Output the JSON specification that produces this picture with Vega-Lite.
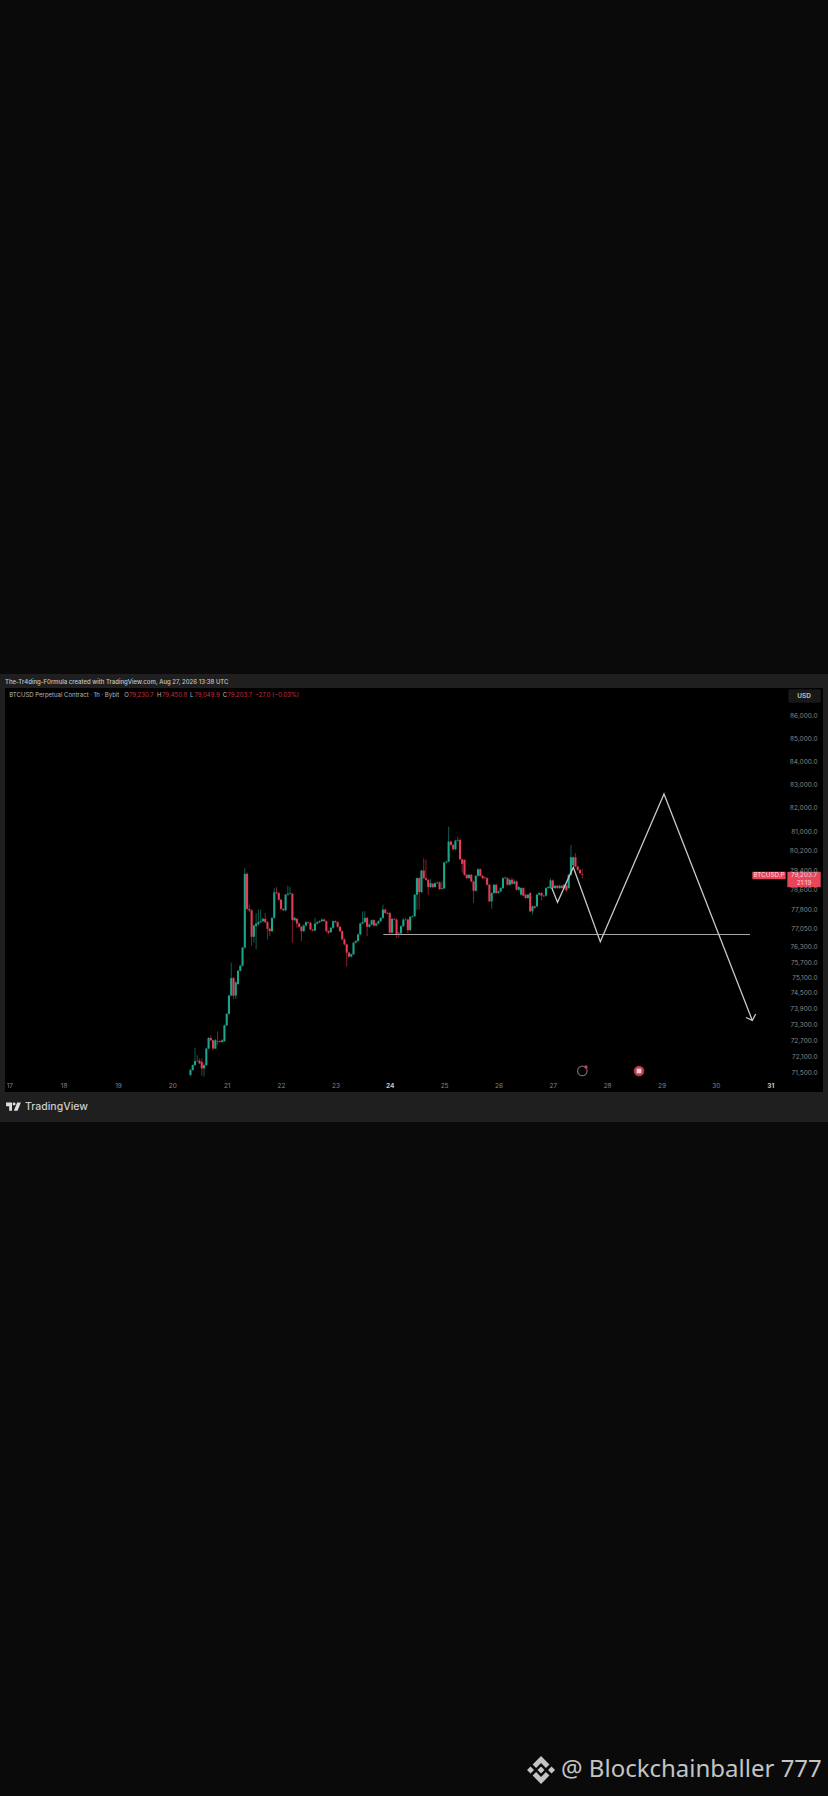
{"$schema":"https://vega.github.io/schema/vega-lite/v6.json","width":828,"height":1796,"padding":0,"autosize":{"type":"none"},"background":"#0a0a0a","config":{"view":{"stroke":null},"text":{"font":"Inter"}},
"encoding":{"x":{"field":"t","type":"temporal","title":null,"scale":{"type":"utc","padding":0,"domain":["2026-08-16T19:54Z","2026-09-01T01:31Z"]},"axis":{"orient":"bottom","offset":-716,"zindex":1,"domain":false,"ticks":false,"grid":false,"title":null,"format":"%-d","labelFont":"Inter","labelFontSize":6.5,"labelPadding":2,"labelBound":false,"labelFlush":false,"labelOverlap":false,"labelColor":{"condition":{"test":"utcdate(datum.value)==24||utcdate(datum.value)==31","value":"#c4c4c4"},"value":"#868686"},"labelFontWeight":{"condition":{"test":"utcdate(datum.value)==24||utcdate(datum.value)==31","value":"bold"},"value":"normal"},"values":["2026-08-17T00:00Z","2026-08-18T00:00Z","2026-08-19T00:00Z","2026-08-20T00:00Z","2026-08-21T00:00Z","2026-08-22T00:00Z","2026-08-23T00:00Z","2026-08-24T00:00Z","2026-08-25T00:00Z","2026-08-26T00:00Z","2026-08-27T00:00Z","2026-08-28T00:00Z","2026-08-29T00:00Z","2026-08-30T00:00Z","2026-08-31T00:00Z"]}},
"y":{"field":"p","type":"quantitative","title":null,"scale":{"type":"log","domain":[49142,124626]},"axis":{"orient":"right","offset":-11,"zindex":1,"domain":false,"ticks":false,"grid":false,"title":null,"format":",.1f","labelFont":"Inter","labelFontSize":6.5,"labelColor":"#868686","labelAlign":"right","labelPadding":0,"labelBound":false,"labelFlush":false,"labelOverlap":false,"values":[86000,85000,84000,83000,82000,81000,80200,79400,78600,77800,77050,76300,75700,75100,74500,73900,73300,72700,72100,71500]}}},
"layer":[
{"data":{"values":[{"t":"2026-08-16T19:54Z","t2":"2026-09-01T01:31Z","p":87892,"p2":69684}]},"mark":{"type":"rect","color":"#1f1f1f"},"encoding":{"x2":{"field":"t2"},"y2":{"field":"p2"}}},
{"data":{"values":[{"t":"2026-08-16T22:06Z","t2":"2026-08-31T23:18Z","p":87257,"p2":70776}]},"mark":{"type":"rect","color":"#000000"},"encoding":{"x2":{"field":"t2"},"y2":{"field":"p2"}}},
{"data":{"values":[{"t":"2026-08-31T08:00Z","t2":"2026-08-31T22:18Z","p":87198,"p2":86594}]},"mark":{"type":"rect","color":"#181818","cornerRadius":1.5},"encoding":{"x2":{"field":"t2"},"y2":{"field":"p2"}}},
{"data":{"name":"candles","values":[
{"t":"2026-08-20T08:00Z","o":71400,"h":71640,"l":71360,"c":71584},{"t":"2026-08-20T09:00Z","o":71584,"h":71800,"l":71560,"c":71768},{"t":"2026-08-20T10:00Z","o":71768,"h":72410,"l":71740,"c":71916},{"t":"2026-08-20T11:00Z","o":71916,"h":72139,"l":71880,"c":71929},{"t":"2026-08-20T12:00Z","o":71929,"h":72015,"l":71800,"c":71830},{"t":"2026-08-20T13:00Z","o":71880,"h":72015,"l":71376,"c":71645},{"t":"2026-08-20T14:00Z","o":71645,"h":71830,"l":71339,"c":71768},{"t":"2026-08-20T15:00Z","o":71768,"h":72420,"l":71730,"c":72386},{"t":"2026-08-20T16:00Z","o":72386,"h":72820,"l":72360,"c":72784},{"t":"2026-08-20T17:00Z","o":72784,"h":72884,"l":72660,"c":72697},{"t":"2026-08-20T18:00Z","o":72697,"h":72720,"l":72324,"c":72386},{"t":"2026-08-20T19:00Z","o":72386,"h":72740,"l":72360,"c":72697},{"t":"2026-08-20T20:00Z","o":72660,"h":73034,"l":72510,"c":72635},{"t":"2026-08-20T21:00Z","o":72660,"h":72700,"l":72600,"c":72635},{"t":"2026-08-20T22:00Z","o":72635,"h":72740,"l":72600,"c":72697},{"t":"2026-08-20T23:00Z","o":72660,"h":73290,"l":72640,"c":73260},
{"t":"2026-08-21T00:00Z","o":73260,"h":73730,"l":73230,"c":73700},{"t":"2026-08-21T01:00Z","o":73700,"h":74430,"l":73670,"c":74400},{"t":"2026-08-21T02:00Z","o":74400,"h":75684,"l":74370,"c":75077},{"t":"2026-08-21T03:00Z","o":75077,"h":75120,"l":74270,"c":74398},{"t":"2026-08-21T04:00Z","o":74398,"h":74950,"l":74270,"c":74910},{"t":"2026-08-21T05:00Z","o":74845,"h":75400,"l":74820,"c":75360},{"t":"2026-08-21T06:00Z","o":75360,"h":75600,"l":75340,"c":75555},{"t":"2026-08-21T07:00Z","o":75555,"h":76300,"l":75530,"c":76270},{"t":"2026-08-21T08:00Z","o":76270,"h":79476,"l":76240,"c":79244},{"t":"2026-08-21T09:00Z","o":79244,"h":79300,"l":77780,"c":77816},{"t":"2026-08-21T10:00Z","o":77816,"h":78000,"l":77700,"c":77762},{"t":"2026-08-21T11:00Z","o":77762,"h":77800,"l":76336,"c":76703},{"t":"2026-08-21T12:00Z","o":76703,"h":77190,"l":76467,"c":77152},{"t":"2026-08-21T13:00Z","o":77125,"h":77650,"l":76205,"c":77231},{"t":"2026-08-21T14:00Z","o":77205,"h":77789,"l":77150,"c":77284},{"t":"2026-08-21T15:00Z","o":77284,"h":77789,"l":77250,"c":77324},{"t":"2026-08-21T16:00Z","o":77324,"h":77460,"l":77280,"c":77417},{"t":"2026-08-21T17:00Z","o":77417,"h":77656,"l":77240,"c":77284},{"t":"2026-08-21T18:00Z","o":77284,"h":77330,"l":76598,"c":77020},{"t":"2026-08-21T19:00Z","o":77020,"h":77060,"l":76730,"c":76927},{"t":"2026-08-21T20:00Z","o":76927,"h":77490,"l":76880,"c":77457},{"t":"2026-08-21T21:00Z","o":77457,"h":78662,"l":77420,"c":78486},{"t":"2026-08-21T22:00Z","o":78486,"h":78702,"l":78400,"c":78459},{"t":"2026-08-21T23:00Z","o":78459,"h":78500,"l":78150,"c":78190},
{"t":"2026-08-22T00:00Z","o":78190,"h":78230,"l":77780,"c":77816},{"t":"2026-08-22T01:00Z","o":77816,"h":77850,"l":77720,"c":77762},{"t":"2026-08-22T02:00Z","o":77762,"h":78430,"l":77720,"c":78392},{"t":"2026-08-22T03:00Z","o":78392,"h":78756,"l":78350,"c":78432},{"t":"2026-08-22T04:00Z","o":78432,"h":78702,"l":78400,"c":78459},{"t":"2026-08-22T05:00Z","o":78432,"h":78480,"l":76467,"c":77364},{"t":"2026-08-22T06:00Z","o":77364,"h":77500,"l":77320,"c":77457},{"t":"2026-08-22T07:00Z","o":77417,"h":77460,"l":77059,"c":77231},{"t":"2026-08-22T08:00Z","o":77231,"h":77270,"l":77060,"c":77099},{"t":"2026-08-22T09:00Z","o":77099,"h":77140,"l":76532,"c":76927},{"t":"2026-08-22T10:00Z","o":76927,"h":77190,"l":76880,"c":77152},{"t":"2026-08-22T11:00Z","o":77152,"h":77320,"l":77110,"c":77284},{"t":"2026-08-22T12:00Z","o":77284,"h":77320,"l":77220,"c":77258},{"t":"2026-08-22T13:00Z","o":77258,"h":77300,"l":76950,"c":76993},{"t":"2026-08-22T14:00Z","o":76993,"h":77020,"l":76900,"c":76954},{"t":"2026-08-22T15:00Z","o":76954,"h":77457,"l":76920,"c":77231},{"t":"2026-08-22T16:00Z","o":77231,"h":77330,"l":77190,"c":77284},{"t":"2026-08-22T17:00Z","o":77284,"h":77360,"l":77240,"c":77324},{"t":"2026-08-22T18:00Z","o":77324,"h":77430,"l":77290,"c":77390},{"t":"2026-08-22T19:00Z","o":77390,"h":77430,"l":77290,"c":77324},{"t":"2026-08-22T20:00Z","o":77324,"h":77360,"l":76861,"c":76927},{"t":"2026-08-22T21:00Z","o":76927,"h":76960,"l":76800,"c":76861},{"t":"2026-08-22T22:00Z","o":76888,"h":77090,"l":76850,"c":77059},{"t":"2026-08-22T23:00Z","o":77059,"h":77360,"l":77020,"c":77324},
{"t":"2026-08-23T00:00Z","o":77324,"h":77360,"l":77240,"c":77284},{"t":"2026-08-23T01:00Z","o":77284,"h":77320,"l":77060,"c":77099},{"t":"2026-08-23T02:00Z","o":77099,"h":77140,"l":76880,"c":76927},{"t":"2026-08-23T03:00Z","o":76927,"h":76960,"l":76560,"c":76598},{"t":"2026-08-23T04:00Z","o":76598,"h":76640,"l":76360,"c":76400},{"t":"2026-08-23T05:00Z","o":76400,"h":76430,"l":75529,"c":76075},{"t":"2026-08-23T06:00Z","o":76075,"h":76110,"l":75880,"c":75918},{"t":"2026-08-23T07:00Z","o":75918,"h":76040,"l":75880,"c":76010},{"t":"2026-08-23T08:00Z","o":76010,"h":76500,"l":75980,"c":76467},{"t":"2026-08-23T09:00Z","o":76467,"h":76570,"l":76430,"c":76532},{"t":"2026-08-23T10:00Z","o":76532,"h":76830,"l":76500,"c":76796},{"t":"2026-08-23T11:00Z","o":76796,"h":77270,"l":76760,"c":77231},{"t":"2026-08-23T12:00Z","o":77231,"h":77720,"l":77200,"c":77284},{"t":"2026-08-23T13:00Z","o":77284,"h":77722,"l":77250,"c":77457},{"t":"2026-08-23T14:00Z","o":77457,"h":77490,"l":76730,"c":77099},{"t":"2026-08-23T15:00Z","o":77099,"h":77230,"l":77060,"c":77190},{"t":"2026-08-23T16:00Z","o":77190,"h":77400,"l":77150,"c":77364},{"t":"2026-08-23T17:00Z","o":77364,"h":77400,"l":77110,"c":77152},{"t":"2026-08-23T18:00Z","o":77152,"h":77270,"l":77110,"c":77231},{"t":"2026-08-23T19:00Z","o":77231,"h":77360,"l":77190,"c":77324},{"t":"2026-08-23T20:00Z","o":77324,"h":77490,"l":77290,"c":77457},{"t":"2026-08-23T21:00Z","o":77457,"h":77990,"l":77420,"c":77789},{"t":"2026-08-23T22:00Z","o":77789,"h":77830,"l":77620,"c":77656},{"t":"2026-08-23T23:00Z","o":77656,"h":77690,"l":77590,"c":77630},
{"t":"2026-08-24T00:00Z","o":77656,"h":77690,"l":76830,"c":76861},{"t":"2026-08-24T01:00Z","o":76861,"h":77450,"l":76830,"c":77417},{"t":"2026-08-24T02:00Z","o":77417,"h":77450,"l":77350,"c":77390},{"t":"2026-08-24T03:00Z","o":77390,"h":77430,"l":76664,"c":76796},{"t":"2026-08-24T04:00Z","o":76862,"h":76900,"l":76664,"c":76835},{"t":"2026-08-24T05:00Z","o":76835,"h":77160,"l":76800,"c":77125},{"t":"2026-08-24T06:00Z","o":77125,"h":77457,"l":77090,"c":77390},{"t":"2026-08-24T07:00Z","o":77390,"h":77457,"l":77340,"c":77380},{"t":"2026-08-24T08:00Z","o":77390,"h":77420,"l":76835,"c":76967},{"t":"2026-08-24T09:00Z","o":76967,"h":77530,"l":76930,"c":77497},{"t":"2026-08-24T10:00Z","o":77497,"h":77550,"l":77460,"c":77523},{"t":"2026-08-24T11:00Z","o":77523,"h":78420,"l":77490,"c":78392},{"t":"2026-08-24T12:00Z","o":78392,"h":79100,"l":77789,"c":79068},{"t":"2026-08-24T13:00Z","o":79068,"h":79100,"l":77789,"c":78500},{"t":"2026-08-24T14:00Z","o":78500,"h":79410,"l":78460,"c":79380},{"t":"2026-08-24T15:00Z","o":79380,"h":79886,"l":79030,"c":79068},{"t":"2026-08-24T16:00Z","o":79068,"h":79818,"l":78960,"c":79000},{"t":"2026-08-24T17:00Z","o":79000,"h":79040,"l":78392,"c":78702},{"t":"2026-08-24T18:00Z","o":78702,"h":79027,"l":78670,"c":78865},{"t":"2026-08-24T19:00Z","o":78838,"h":78870,"l":78660,"c":78702},{"t":"2026-08-24T20:00Z","o":78702,"h":78900,"l":78670,"c":78865},{"t":"2026-08-24T21:00Z","o":78865,"h":78930,"l":78830,"c":78892},{"t":"2026-08-24T22:00Z","o":78892,"h":78932,"l":78590,"c":78621},{"t":"2026-08-24T23:00Z","o":78621,"h":78932,"l":78590,"c":78648},
{"t":"2026-08-25T00:00Z","o":78648,"h":79740,"l":78620,"c":79708},{"t":"2026-08-25T01:00Z","o":79708,"h":79790,"l":79670,"c":79750},{"t":"2026-08-25T02:00Z","o":79750,"h":81207,"l":79720,"c":80579},{"t":"2026-08-25T03:00Z","o":80579,"h":80620,"l":80400,"c":80440},{"t":"2026-08-25T04:00Z","o":80440,"h":80480,"l":80220,"c":80260},{"t":"2026-08-25T05:00Z","o":80260,"h":80660,"l":80220,"c":80620},{"t":"2026-08-25T06:00Z","o":80620,"h":80787,"l":80590,"c":80648},{"t":"2026-08-25T07:00Z","o":80648,"h":80720,"l":79810,"c":79845},{"t":"2026-08-25T08:00Z","o":79845,"h":79880,"l":79300,"c":79654},{"t":"2026-08-25T09:00Z","o":79818,"h":79850,"l":79160,"c":79203},{"t":"2026-08-25T10:00Z","o":79203,"h":79240,"l":79030,"c":79068},{"t":"2026-08-25T11:00Z","o":79068,"h":79240,"l":79030,"c":79203},{"t":"2026-08-25T12:00Z","o":79203,"h":79240,"l":78890,"c":78932},{"t":"2026-08-25T13:00Z","o":78932,"h":78970,"l":78057,"c":78553},{"t":"2026-08-25T14:00Z","o":78553,"h":79200,"l":78520,"c":79163},{"t":"2026-08-25T15:00Z","o":79163,"h":79470,"l":79130,"c":79434},{"t":"2026-08-25T16:00Z","o":79434,"h":79470,"l":79130,"c":79163},{"t":"2026-08-25T17:00Z","o":79163,"h":79200,"l":79030,"c":79068},{"t":"2026-08-25T18:00Z","o":79095,"h":79130,"l":79030,"c":79068},{"t":"2026-08-25T19:00Z","o":79068,"h":79100,"l":78760,"c":78797},{"t":"2026-08-25T20:00Z","o":78797,"h":78830,"l":78090,"c":78124},{"t":"2026-08-25T21:00Z","o":78124,"h":78500,"l":77816,"c":78460},{"t":"2026-08-25T22:00Z","o":78460,"h":78830,"l":78430,"c":78797},{"t":"2026-08-25T23:00Z","o":78797,"h":78830,"l":78430,"c":78460},
{"t":"2026-08-26T00:00Z","o":78460,"h":78560,"l":78430,"c":78525},{"t":"2026-08-26T01:00Z","o":78525,"h":78700,"l":78490,"c":78661},{"t":"2026-08-26T02:00Z","o":78661,"h":79100,"l":78630,"c":79068},{"t":"2026-08-26T03:00Z","o":79068,"h":79130,"l":79030,"c":79095},{"t":"2026-08-26T04:00Z","o":79068,"h":79100,"l":78760,"c":78797},{"t":"2026-08-26T05:00Z","o":78797,"h":79040,"l":78760,"c":79000},{"t":"2026-08-26T06:00Z","o":79000,"h":79095,"l":78800,"c":78838},{"t":"2026-08-26T07:00Z","o":78838,"h":79027,"l":78800,"c":78932},{"t":"2026-08-26T08:00Z","o":78932,"h":78970,"l":78560,"c":78594},{"t":"2026-08-26T09:00Z","o":78594,"h":78740,"l":78560,"c":78702},{"t":"2026-08-26T10:00Z","o":78392,"h":78700,"l":78360,"c":78661},{"t":"2026-08-26T11:00Z","o":78661,"h":78700,"l":78320,"c":78352},{"t":"2026-08-26T12:00Z","o":78392,"h":78430,"l":78220,"c":78257},{"t":"2026-08-26T13:00Z","o":78257,"h":78430,"l":78220,"c":78392},{"t":"2026-08-26T14:00Z","o":78460,"h":78490,"l":77690,"c":77723},{"t":"2026-08-26T15:00Z","o":77723,"h":77960,"l":77590,"c":77922},{"t":"2026-08-26T16:00Z","o":77922,"h":77960,"l":77820,"c":77856},{"t":"2026-08-26T17:00Z","o":77922,"h":78430,"l":77890,"c":78392},{"t":"2026-08-26T18:00Z","o":78392,"h":78500,"l":78360,"c":78460},{"t":"2026-08-26T19:00Z","o":78460,"h":78500,"l":78163,"c":78352},{"t":"2026-08-26T20:00Z","o":78352,"h":78390,"l":78290,"c":78325},{"t":"2026-08-26T21:00Z","o":78352,"h":78700,"l":78320,"c":78661},{"t":"2026-08-26T22:00Z","o":78661,"h":78740,"l":78630,"c":78702},{"t":"2026-08-26T23:00Z","o":78661,"h":79068,"l":78630,"c":78973},
{"t":"2026-08-27T00:00Z","o":78973,"h":79010,"l":78630,"c":78661},{"t":"2026-08-27T01:00Z","o":78661,"h":78800,"l":78630,"c":78756},{"t":"2026-08-27T02:00Z","o":78756,"h":78800,"l":78630,"c":78661},{"t":"2026-08-27T03:00Z","o":78661,"h":78790,"l":78630,"c":78756},{"t":"2026-08-27T04:00Z","o":78756,"h":78790,"l":78630,"c":78661},{"t":"2026-08-27T05:00Z","o":78661,"h":78830,"l":78630,"c":78797},{"t":"2026-08-27T06:00Z","o":78756,"h":78790,"l":78530,"c":78567},{"t":"2026-08-27T07:00Z","o":78661,"h":79240,"l":78630,"c":79203},{"t":"2026-08-27T08:00Z","o":79203,"h":80440,"l":79170,"c":79927},{"t":"2026-08-27T09:00Z","o":79600,"h":79960,"l":79570,"c":79927},{"t":"2026-08-27T10:00Z","o":79927,"h":80095,"l":79510,"c":79544},{"t":"2026-08-27T11:00Z","o":79544,"h":79580,"l":79370,"c":79407},{"t":"2026-08-27T12:00Z","o":79407,"h":79450,"l":79240,"c":79271},{"t":"2026-08-27T13:00Z","o":79230.7,"h":79450.8,"l":79049.9,"c":79203.7}
]},"layer":[
{"mark":{"type":"rule","strokeWidth":0.8,"opacity":0.75},"encoding":{"y":{"field":"h","type":"quantitative","title":null,"scale":{"type":"log","domain":[49142,124626]},"axis":{"orient":"right","offset":-11,"zindex":1,"domain":false,"ticks":false,"grid":false,"title":null,"format":",.1f","labelFont":"Inter","labelFontSize":6.5,"labelColor":"#868686","labelAlign":"right","labelPadding":0,"labelBound":false,"labelFlush":false,"labelOverlap":false,"values":[86000,85000,84000,83000,82000,81000,80200,79400,78600,77800,77050,76300,75700,75100,74500,73900,73300,72700,72100,71500]}},"y2":{"field":"l"},"color":{"condition":{"test":"datum.c>=datum.o","value":"#159a84"},"value":"#d8354c"}}},
{"mark":{"type":"bar","size":2.1},"encoding":{"y":{"field":"o","type":"quantitative","title":null,"scale":{"type":"log","domain":[49142,124626]},"axis":{"orient":"right","offset":-11,"zindex":1,"domain":false,"ticks":false,"grid":false,"title":null,"format":",.1f","labelFont":"Inter","labelFontSize":6.5,"labelColor":"#868686","labelAlign":"right","labelPadding":0,"labelBound":false,"labelFlush":false,"labelOverlap":false,"values":[86000,85000,84000,83000,82000,81000,80200,79400,78600,77800,77050,76300,75700,75100,74500,73900,73300,72700,72100,71500]}},"y2":{"field":"c"},"color":{"condition":{"test":"datum.c>=datum.o","value":"#1aa58d"},"value":"#e63c54"}}}
]},
{"data":{"values":[{"t":"2026-08-23T21:09Z","p":76795},{"t":"2026-08-30T15:04Z","p":76795}]},"mark":{"type":"line","color":"#a6a6a6","strokeWidth":1.1},"encoding":{"order":{"field":"t","type":"temporal"}}},
{"data":{"values":[{"t":"2026-08-26T23:32Z","p":78675},{"t":"2026-08-27T02:05Z","p":78082},{"t":"2026-08-27T09:03Z","p":79517},{"t":"2026-08-27T20:58Z","p":76508},{"t":"2026-08-29T01:06Z","p":82594},{"t":"2026-08-30T16:06Z","p":73447}]},"mark":{"type":"line","color":"#c8c8c8","strokeWidth":1.3},"encoding":{"order":{"field":"t","type":"temporal"}}},
{"data":{"values":[{"t":"2026-08-30T13:19Z","p":73560},{"t":"2026-08-30T16:06Z","p":73447},{"t":"2026-08-30T17:35Z","p":73689}]},"mark":{"type":"line","color":"#c8c8c8","strokeWidth":1.3},"encoding":{"order":{"field":"t","type":"temporal"}}},
{"data":{"values":[{"t":"2026-08-30T16:06Z","t2":"2026-08-31T06:50Z","p":79335,"p2":79023},{"t":"2026-08-31T07:33Z","t2":"2026-08-31T22:18Z","p":79335,"p2":78696}]},"mark":{"type":"rect","color":"#e8445a","cornerRadius":1},"encoding":{"x2":{"field":"t2"},"y2":{"field":"p2"}}},
{"data":{"values":[{"t":"2026-08-30T23:28Z","p":79178,"label":"BTCUSD.P"},{"t":"2026-08-31T14:55Z","p":79178,"label":"79,203.7"},{"t":"2026-08-31T14:55Z","p":78871,"label":"21:19"}]},"mark":{"type":"text","fontSize":6.3,"color":"#ffd9de","align":"center","baseline":"middle"},"encoding":{"text":{"field":"label"}}},
{"data":{"values":[{"t":"2026-08-31T14:55Z","p":86895,"label":"USD"}]},"mark":{"type":"text","fontSize":6.5,"fontWeight":"bold","color":"#b8b8b8","align":"center","baseline":"middle"},"encoding":{"text":{"field":"label"}}},
{"data":{"values":[{"t":"2026-08-16T22:06Z","p":87542,"label":"The-Tr4ding-F0rmula created with TradingView.com, Aug 27, 2026 13:38 UTC"}]},"mark":{"type":"text","fontSize":6,"fontWeight":500,"color":"#c8c8c8","align":"left","baseline":"middle"},"encoding":{"text":{"field":"label"}}},
{"data":{"values":[{"t":"2026-08-17T00:00Z","p":86941,"label":"BTCUSD Perpetual Contract · 1h · Bybit"},{"t":"2026-08-19T02:47Z","p":86941,"label":"O"},{"t":"2026-08-19T17:13Z","p":86941,"label":"H"},{"t":"2026-08-20T07:48Z","p":86941,"label":"L"},{"t":"2026-08-20T22:14Z","p":86941,"label":"C"}]},"mark":{"type":"text","fontSize":6,"color":"#b8b8b8","align":"left","baseline":"middle"},"encoding":{"text":{"field":"label"}}},
{"data":{"values":[{"t":"2026-08-19T04:51Z","p":86941,"label":"79,230.7"},{"t":"2026-08-19T19:26Z","p":86941,"label":"79,450.8"},{"t":"2026-08-20T09:47Z","p":86941,"label":"79,049.9"},{"t":"2026-08-21T00:21Z","p":86941,"label":"79,203.7"},{"t":"2026-08-21T12:30Z","p":86941,"label":"−27.0 (−0.03%)"}]},"mark":{"type":"text","fontSize":6,"color":"#c2303f","align":"left","baseline":"middle"},"encoding":{"text":{"field":"label"}}},
{"data":{"values":[{"t":"2026-08-27T13:02Z","p":71550}]},"mark":{"type":"point","shape":"circle","size":90,"filled":false,"color":"#6a6a6a","strokeWidth":1.2,"opacity":1}},
{"data":{"values":[{"t":"2026-08-27T14:40Z","p":71700}]},"mark":{"type":"point","shape":"circle","size":10,"filled":true,"color":"#e2384d","opacity":1}},
{"data":{"values":[{"t":"2026-08-28T14:04Z","p":71550}]},"mark":{"type":"point","shape":"circle","size":110,"filled":true,"color":"#c8344a","opacity":1}},
{"data":{"values":[{"t":"2026-08-28T14:04Z","p":71550}]},"mark":{"type":"point","shape":"square","size":22,"filled":true,"color":"#d8d8d8","opacity":1}},
{"data":{"values":[{"t":"2026-08-17T01:51Z","p":70239}]},"mark":{"type":"point","shape":"M-1,-0.55 H-0.2 V0.55 H-0.58 V-0.05 H-1 Z M0.08,-0.55 A0.2,0.2 0 1 1 0.08,-0.15 A0.2,0.2 0 1 1 0.08,-0.55 Z M0.5,-0.55 H1 L0.55,0.55 H0.05 Z","size":219,"filled":true,"color":"#dedede","opacity":1,"strokeWidth":0}},
{"data":{"values":[{"t":"2026-08-17T06:56Z","p":70239,"label":"TradingView"}]},"mark":{"type":"text","fontSize":10.5,"fontWeight":500,"color":"#cccccc","align":"left","baseline":"middle"},"encoding":{"text":{"field":"label"}}},
{"data":{"values":[{"t":"2026-08-26T18:48Z","p":49809}]},"mark":{"type":"point","shape":"M0,-0.25 L0.25,0 L0,0.25 L-0.25,0 Z M-1,0 L-0.75,-0.25 L-0.5,0 L-0.75,0.25 Z M1,0 L0.75,-0.25 L0.5,0 L0.75,0.25 Z M0,-1 L0.6,-0.4 L0.35,-0.15 L0,-0.5 L-0.35,-0.15 L-0.6,-0.4 Z M0,1 L0.6,0.4 L0.35,0.15 L0,0.5 L-0.35,0.15 L-0.6,0.4 Z","size":784,"filled":true,"color":"#c4c4c4","opacity":1,"strokeWidth":0}},
{"data":{"values":[{"t":"2026-08-27T03:38Z","p":49809,"label":"@ Blockchainballer 777"}]},"mark":{"type":"text","font":"Noto Sans","fontSize":24,"color":"#c4c4c4","align":"left","baseline":"middle"},"encoding":{"text":{"field":"label"}}}
]}
